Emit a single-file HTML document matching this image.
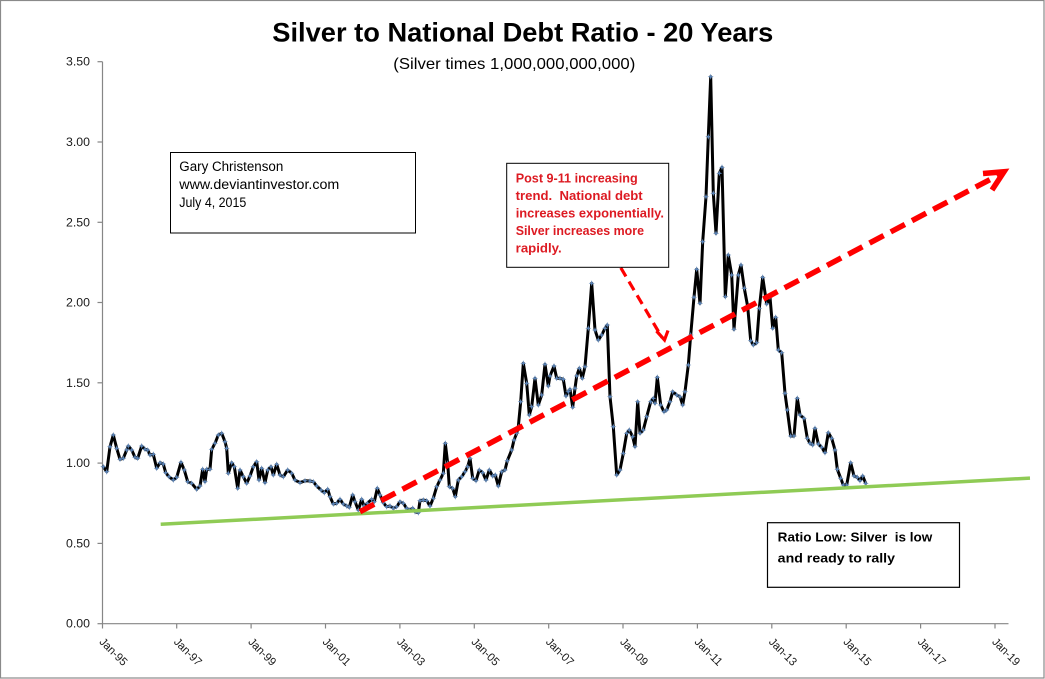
<!DOCTYPE html>
<html><head><meta charset="utf-8"><style>
html,body{margin:0;padding:0;background:#fff;}
svg{display:block;}
text{font-family:"Liberation Sans",Arial,sans-serif;}
</style></head><body>
<svg width="1045" height="679" viewBox="0 0 1045 679" xmlns="http://www.w3.org/2000/svg">
<defs>
<marker id="mk" markerUnits="userSpaceOnUse" markerWidth="7" markerHeight="7" refX="3.5" refY="3.5" viewBox="0 0 7 7">
<path d="M3.5,0.5 L4.6,3.5 L3.5,6.5 L2.4,3.5 Z M0.5,3.5 L3.5,2.4 L6.5,3.5 L3.5,4.6 Z" fill="#5a82b4"/>
</marker>
</defs>
<rect x="0" y="0" width="1045" height="679" fill="#fff"/>
<rect x="0.5" y="0.5" width="1043.5" height="677.5" fill="none" stroke="#8a8a8a" stroke-width="1.2"/>

<!-- Title -->
<text x="272.3" y="41.7" font-size="26.7" font-weight="bold" textLength="501" lengthAdjust="spacingAndGlyphs" fill="#000">Silver to National Debt Ratio - 20 Years</text>
<text x="393.3" y="69" font-size="16" textLength="242" lengthAdjust="spacingAndGlyphs" fill="#000">(Silver times 1,000,000,000,000)</text>

<!-- Axes -->
<g stroke="#868686" stroke-width="1.2" fill="none">
<line x1="102.5" y1="61.7" x2="102.5" y2="623.7"/>
<line x1="102.5" y1="623.7" x2="1008.5" y2="623.7"/>
<line x1="97.5" y1="623.7" x2="102.5" y2="623.7"/>
<line x1="97.5" y1="543.4" x2="102.5" y2="543.4"/>
<line x1="97.5" y1="463.1" x2="102.5" y2="463.1"/>
<line x1="97.5" y1="382.8" x2="102.5" y2="382.8"/>
<line x1="97.5" y1="302.5" x2="102.5" y2="302.5"/>
<line x1="97.5" y1="222.3" x2="102.5" y2="222.3"/>
<line x1="97.5" y1="142.0" x2="102.5" y2="142.0"/>
<line x1="97.5" y1="61.7" x2="102.5" y2="61.7"/>
<line x1="102.5" y1="623.7" x2="102.5" y2="628.5"/>
<line x1="176.7" y1="623.7" x2="176.7" y2="628.5"/>
<line x1="251.1" y1="623.7" x2="251.1" y2="628.5"/>
<line x1="325.5" y1="623.7" x2="325.5" y2="628.5"/>
<line x1="399.9" y1="623.7" x2="399.9" y2="628.5"/>
<line x1="474.3" y1="623.7" x2="474.3" y2="628.5"/>
<line x1="548.7" y1="623.7" x2="548.7" y2="628.5"/>
<line x1="623.0" y1="623.7" x2="623.0" y2="628.5"/>
<line x1="697.4" y1="623.7" x2="697.4" y2="628.5"/>
<line x1="771.8" y1="623.7" x2="771.8" y2="628.5"/>
<line x1="846.2" y1="623.7" x2="846.2" y2="628.5"/>
<line x1="920.6" y1="623.7" x2="920.6" y2="628.5"/>
<line x1="995.0" y1="623.7" x2="995.0" y2="628.5"/>
</g>

<!-- Y labels -->
<g font-size="11.5" fill="#1a1a1a">
<text x="66" y="627.7" textLength="24" lengthAdjust="spacingAndGlyphs">0.00</text>
<text x="66" y="547.4" textLength="24" lengthAdjust="spacingAndGlyphs">0.50</text>
<text x="66" y="467.1" textLength="24" lengthAdjust="spacingAndGlyphs">1.00</text>
<text x="66" y="386.8" textLength="24" lengthAdjust="spacingAndGlyphs">1.50</text>
<text x="66" y="306.5" textLength="24" lengthAdjust="spacingAndGlyphs">2.00</text>
<text x="66" y="226.3" textLength="24" lengthAdjust="spacingAndGlyphs">2.50</text>
<text x="66" y="146.0" textLength="24" lengthAdjust="spacingAndGlyphs">3.00</text>
<text x="66" y="65.7" textLength="24" lengthAdjust="spacingAndGlyphs">3.50</text>
</g>

<!-- X labels -->
<g font-size="11.5" fill="#1a1a1a">
<text transform="translate(98.8,642.5) rotate(45)" textLength="34" lengthAdjust="spacingAndGlyphs">Jan-95</text>
<text transform="translate(173.2,642.5) rotate(45)" textLength="34" lengthAdjust="spacingAndGlyphs">Jan-97</text>
<text transform="translate(247.6,642.5) rotate(45)" textLength="34" lengthAdjust="spacingAndGlyphs">Jan-99</text>
<text transform="translate(322.0,642.5) rotate(45)" textLength="34" lengthAdjust="spacingAndGlyphs">Jan-01</text>
<text transform="translate(396.4,642.5) rotate(45)" textLength="34" lengthAdjust="spacingAndGlyphs">Jan-03</text>
<text transform="translate(470.8,642.5) rotate(45)" textLength="34" lengthAdjust="spacingAndGlyphs">Jan-05</text>
<text transform="translate(545.2,642.5) rotate(45)" textLength="34" lengthAdjust="spacingAndGlyphs">Jan-07</text>
<text transform="translate(619.5,642.5) rotate(45)" textLength="34" lengthAdjust="spacingAndGlyphs">Jan-09</text>
<text transform="translate(693.9,642.5) rotate(45)" textLength="34" lengthAdjust="spacingAndGlyphs">Jan-11</text>
<text transform="translate(768.3,642.5) rotate(45)" textLength="34" lengthAdjust="spacingAndGlyphs">Jan-13</text>
<text transform="translate(842.7,642.5) rotate(45)" textLength="34" lengthAdjust="spacingAndGlyphs">Jan-15</text>
<text transform="translate(917.1,642.5) rotate(45)" textLength="34" lengthAdjust="spacingAndGlyphs">Jan-17</text>
<text transform="translate(991.5,642.5) rotate(45)" textLength="34" lengthAdjust="spacingAndGlyphs">Jan-19</text>
</g>

<!-- Data series -->
<polyline fill="none" stroke="#000" stroke-width="3" stroke-linejoin="round" stroke-linecap="round" marker-start="url(#mk)" marker-mid="url(#mk)" marker-end="url(#mk)" points="
103.3,466.7 106.7,471.7 110,446.7 113.3,435 116.7,448.3 120,459.3 123.3,458.3 126.7,450 128.3,446 131.7,450 135,457.3 137.7,458.3 141.7,446 145,449.3 147.7,450 150,455 153.3,454.3 156.7,468.3 160,462.7 163.3,464 165.7,472.7 169,476.7 173.3,480 176.7,477.3 181,462.3 184.3,470 187.7,481.7 191.7,483.3 196.7,489.3 200,486 202.7,469.3 205,481.7 206.7,469.3 210,469.3 211.7,449.3 215,443.3 218.3,435 221.7,433.3 225,441.7 226.7,448.3 228.3,473.3 231.7,462.7 234.3,466.7 237.7,488.3 240,470 243.3,476.7 246.7,483.3 250,476 253.3,466.7 256.7,461.7 259,480 261.7,468.3 265,482.7 267.7,470 271,466.7 273.3,475 276.7,464.3 280,475 283.3,476.7 287.7,470 291.7,473.3 295,480 300,482.7 305,480.7 310,481 313.3,481.7 316.7,486 321,490 324.3,492.7 327.7,489.3 330,496.7 333.3,504 336.7,503.3 340,499.3 343.3,504 346.7,506 349.3,507.3 352.7,495 355,501.7 358.3,510 361.7,499.3 364,506 367.3,503.3 371.7,499.3 374.3,501.7 377.3,488.3 380,495 383.3,502.7 386.7,506.7 390,506 393.3,508.3 396.7,506.7 400,501.7 403.3,503.3 406.7,508.3 409.3,510 412.7,508.3 415,511.7 418.3,512.7 420,500.7 423.3,500 426.7,500.7 430,506 433.3,498.3 436.7,486.7 440,480 443.3,473.3 445.3,443.3 447.7,463.3 449.3,486.7 452.7,488.3 455.3,496.7 458.3,480 461.7,476.7 465,471.7 467.7,466.7 470,458.3 472.7,478.3 476,480.7 479.3,470 482.7,472.7 486,480 489.3,470 492.7,476 495.3,475 498.3,486 501.7,471.7 505,470 507.3,460.7 511.7,450 514,440 516.7,433.3 518.3,426.7 520.7,401.7 523.3,363.3 526.7,383.3 529.3,415 531.7,406.7 535,378.3 538.3,405 541.7,395 545,364.3 548.3,386 550,376 554,366 556.7,378.3 560,378.3 563.3,379.3 566,396 568.3,391.7 570,389.3 572.7,407.3 575,388.3 576.7,376 579.3,368.3 582.3,378.3 585,366.7 588.3,328.3 591.7,283.3 595,330 598.3,340 601.7,335 605,328.3 607.3,325 610,396.7 613.3,426.7 616.7,475 620,470 623.3,453.3 626.7,433.3 629.3,430 632.7,436.7 635,446.7 637.7,401.7 640,433.3 643.3,430 646.7,416.7 650.7,401.7 653.3,398.3 655,403.3 657.3,377.3 660.7,405 664,411.7 666.7,410 670,401.7 672.7,391.7 676.7,395 680,396.7 682.7,405 685,391.7 688.3,365 690.7,335 694,297.3 696.7,269.3 700,303.3 702.7,241.7 706,196.7 708.3,136.7 710.7,76.7 713.3,193.3 716,233.3 719.3,173.3 722,167.3 725.3,296.7 728.3,255 731.7,275 734,329.3 738.3,275 741,265 744.3,288.3 747.7,306.7 750.7,340.7 753.3,345 756.7,342.7 759.3,308.3 762.7,277.3 766.7,304 770,297.3 772.7,328.3 775.7,317.3 778.3,350 781.7,352.7 785,393.3 787.3,410 790.7,436 794,436 797.3,398.3 800,415 804,418.3 807.3,438.3 810,443.3 812.7,445 815,428.3 818.3,444 821.7,447.3 825,452.7 828.3,432.7 831.7,438.3 835,450 837.3,469.3 840.7,478.3 843.3,485 846.7,485 850.7,462.7 854,476 857.3,477.3 860,480.7 862.7,476 865.7,483.3"/>

<!-- Green support line -->
<line x1="160.7" y1="524.3" x2="1030" y2="478.1" stroke="#8fcb55" stroke-width="3.5"/>

<!-- Red dashed trend arrow -->
<line x1="360" y1="511.7" x2="999" y2="174.8" stroke="#ff0000" stroke-width="5.5" stroke-dasharray="16 8"/>
<polyline points="983,173.5 1004,171.7 992,190" fill="none" stroke="#ff0000" stroke-width="5.5" stroke-linejoin="miter" stroke-linecap="butt"/>

<!-- Small dashed arrow -->
<line x1="612.7" y1="254" x2="662" y2="337.5" stroke="#ff0000" stroke-width="3.2" stroke-dasharray="10 6"/>
<polyline points="656.5,331 664.5,340 668,330.5" fill="none" stroke="#ff0000" stroke-width="3.2"/>

<!-- Gary box -->
<rect x="170.5" y="152.5" width="245" height="80.5" fill="#fff" stroke="#000" stroke-width="1"/>
<g font-size="13.5" fill="#000">
<text x="179.3" y="171.2" textLength="104" lengthAdjust="spacingAndGlyphs">Gary Christenson</text>
<text x="179.3" y="189.2" textLength="160" lengthAdjust="spacingAndGlyphs">www.deviantinvestor.com</text>
<text x="179.3" y="207" textLength="67" lengthAdjust="spacingAndGlyphs">July 4, 2015</text>
</g>

<!-- Post 9-11 box -->
<rect x="506.7" y="163.3" width="162" height="104" fill="#fff" stroke="#000" stroke-width="1"/>
<g font-size="13" font-weight="bold" fill="#dd1a22">
<text x="515.7" y="182.3" textLength="122" lengthAdjust="spacingAndGlyphs">Post 9-11 increasing</text>
<text x="515.7" y="200" textLength="127" lengthAdjust="spacingAndGlyphs">trend.&#160; National debt</text>
<text x="515.7" y="217.7" textLength="148.3" lengthAdjust="spacingAndGlyphs">increases exponentially.</text>
<text x="515.7" y="235.2" textLength="128.3" lengthAdjust="spacingAndGlyphs">Silver increases more</text>
<text x="515.7" y="252.7" textLength="46" lengthAdjust="spacingAndGlyphs">rapidly.</text>
</g>

<!-- Ratio Low box -->
<rect x="767.5" y="522.7" width="192" height="64.6" fill="#fff" stroke="#000" stroke-width="1.2"/>
<g font-size="13" font-weight="bold" fill="#000">
<text x="777.7" y="541.7" textLength="154.6" lengthAdjust="spacingAndGlyphs">Ratio Low: Silver&#160; is low</text>
<text x="777.7" y="562.3" textLength="117.3" lengthAdjust="spacingAndGlyphs">and ready to rally</text>
</g>
</svg>
</body></html>
